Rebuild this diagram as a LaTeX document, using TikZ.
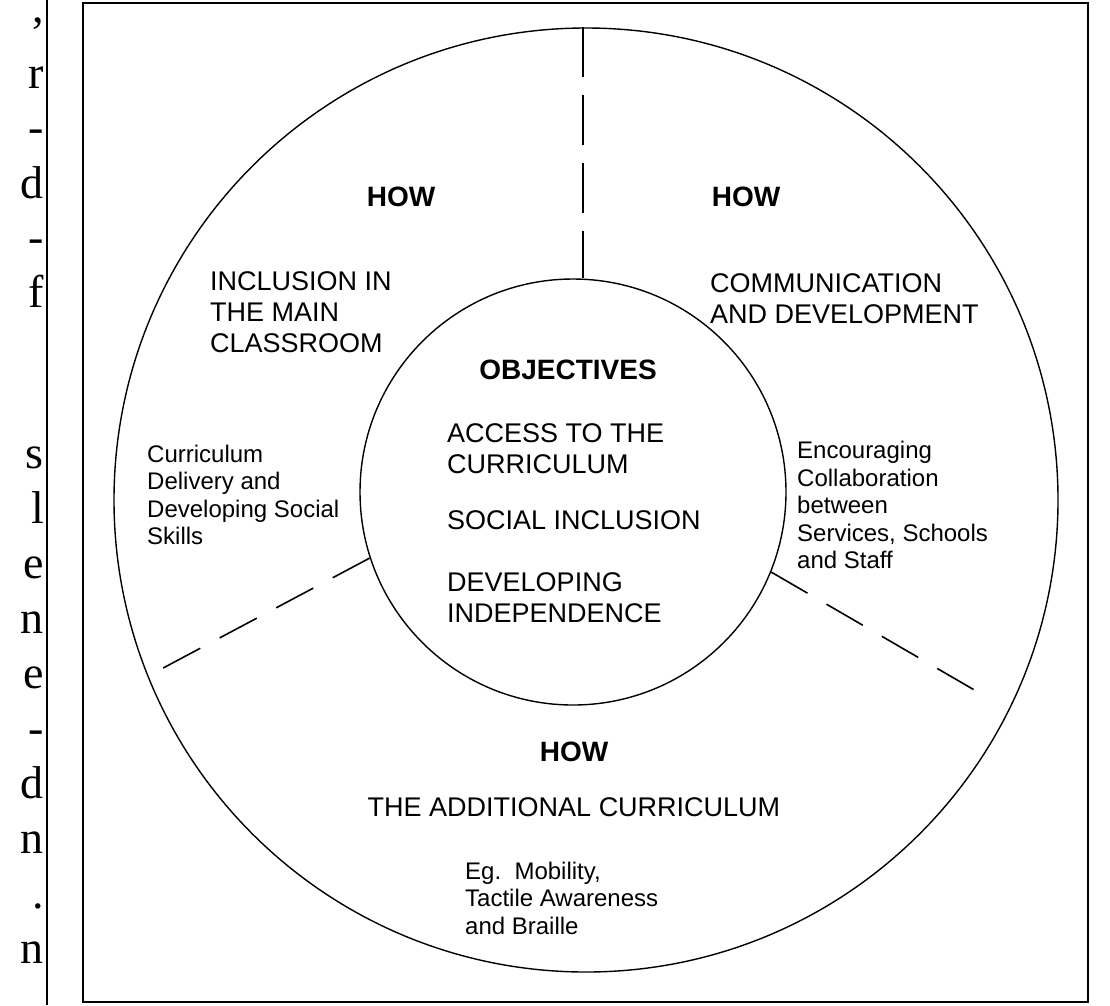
\documentclass[tikz,border=0pt]{standalone}
\usepackage{fontspec}
\setmainfont{Liberation Sans}
\newfontfamily\serifmargin{Liberation Serif}
\begin{document}
\begin{tikzpicture}[x=1pt,y=-1pt,
  big/.style={font=\fontsize{27}{31}\selectfont,align=left,inner sep=0pt},
  small/.style={font=\fontsize{24}{27.5}\selectfont,align=left,inner sep=0pt},
  head/.style={font=\bfseries\fontsize{28}{32}\selectfont,inner sep=0pt},
  marg/.style={font=\serifmargin\fontsize{46}{46}\selectfont,anchor=base east,inner sep=0pt},
  dash1/.style={line width=1.6pt,dash pattern=on 50pt off 18pt},
  dash2/.style={line width=1.6pt,dash pattern=on 42pt off 22pt},
  ln/.style={line width=1.4pt}]
\useasboundingbox (0,0) rectangle (1110,1005);
\fill[white] (0,0) rectangle (1110,1005);
% page divider and frame
\draw[ln] (47,0) -- (47,1005);
\draw[ln] (83,3) rectangle (1088,1002);
% circles
\node[ln,draw,circle,minimum size=944pt,inner sep=0pt] (outer) at (586,500) {};
\node[ln,draw,circle,minimum size=426pt,inner sep=0pt] (inner) at (573,492) {};
% dashed dividers
\coordinate (t1) at (583,27);
\coordinate (l1) at (150,675);
\coordinate (r1) at (983,695);
\draw[dash1] (t1) -- (inner.north -| t1);
\draw[dash2] (inner.198) -- (l1);
\draw[dash2] (inner.-22) -- (r1);
% texts
\node[head] (how1) at (401,197) {HOW};
\node[head] (how2) at (746,197) {HOW};
\node[head] (how3) at (574,752) {HOW};
\node[head] (obj) at (568,370) {OBJECTIVES};
\node[big,anchor=west] (inc) at (210,312) {INCLUSION IN\\THE MAIN\\CLASSROOM};
\node[big,anchor=west] (com) at (710,299) {COMMUNICATION\\AND DEVELOPMENT};
\node[big,anchor=west] (acc) at (447,449) {ACCESS TO THE\\CURRICULUM};
\node[big,anchor=west] (soc) at (447,520) {SOCIAL INCLUSION};
\node[big,anchor=west] (dev) at (447,598) {DEVELOPING\\INDEPENDENCE};
\node[big] (add) at (574,807) {THE ADDITIONAL CURRICULUM};
\node[small,anchor=west] (cur) at (147,495) {Curriculum\\Delivery and\\Developing Social\\Skills};
\node[small,anchor=west] (enc) at (797,505) {Encouraging\\Collaboration\\between\\Services, Schools\\and Staff};
\node[small,anchor=west] (eg) at (465,898) {Eg.\ \ Mobility,\\Tactile Awareness\\and Braille};
% margin fragments
\node[marg] (m0) at (44,22) {,};
\foreach \t/\y in {r/88, -/142, d/198, -/252, f/307, s/468, l/523, e/578, n/633, e/688, -/743, d/798, n/853, ./908, n/963}
  \node[marg] at (44,\y) {\t};
\end{tikzpicture}
\end{document}
